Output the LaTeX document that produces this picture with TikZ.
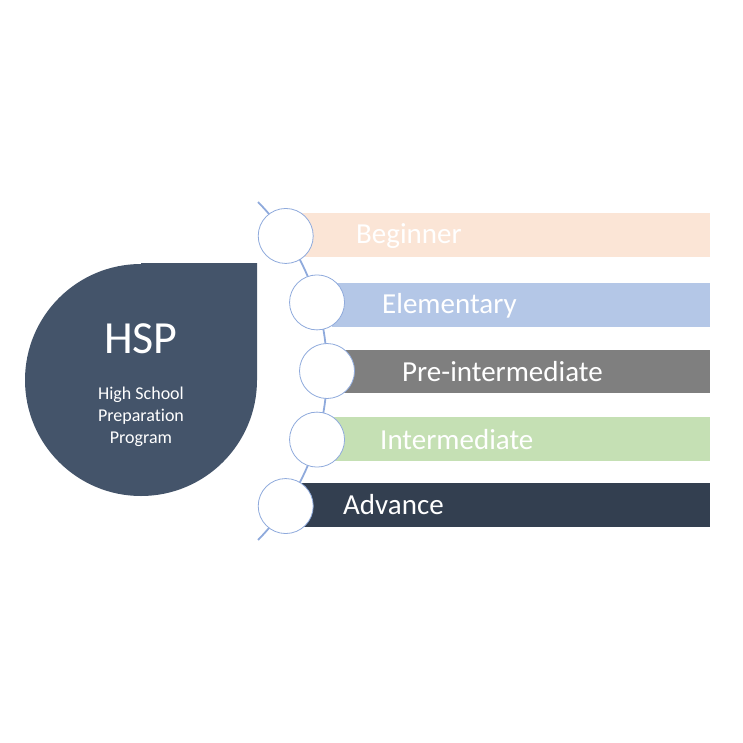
\documentclass[tikz,border=0pt]{standalone}
\usepackage{fontspec}
\setmainfont{Carlito}[Ligatures=NoCommon]
\usetikzlibrary{calc}
\definecolor{drop}{HTML}{44546A}
\definecolor{ring}{HTML}{8FAADC}
\definecolor{cBeg}{HTML}{FBE5D6}
\definecolor{cEle}{HTML}{B4C7E7}
\definecolor{cPre}{HTML}{7F7F7F}
\definecolor{cInt}{HTML}{C5E0B4}
\definecolor{cAdv}{HTML}{333F50}
\begin{document}
\begin{tikzpicture}[x=1pt,y=-1pt,
  bartext/.style={anchor=west,inner sep=0pt,text=white,font=\fontsize{29}{34}\selectfont},
  stepcircle/.style={circle,draw=ring,line width=0.8pt,fill=white,minimum size=55pt,inner sep=0pt},
  spine/.style={draw=ring,line width=1.8pt}]
\useasboundingbox (0,0) rectangle (743,743);
% teardrop
\fill[drop] (141,263) -- (257,263) -- (257,380) arc[start angle=0,end angle=270,radius=116] -- cycle;
\node[text=white,font=\fontsize{46}{50}\selectfont,inner sep=0pt] (hsp) at (141,339) {HSP};
\node[text=white,font=\fontsize{18}{22}\selectfont,align=center,inner sep=0pt] (hspsub) at (141,417) {High School\\Preparation\\Program};
% bars
\fill[cBeg] (302,213) rectangle (710,257);
\fill[cEle] (332,283) rectangle (710,327);
\fill[cPre] (340,350) rectangle (710,393);
\fill[cInt] (332,417) rectangle (710,461);
\fill[cAdv] (302,483) rectangle (710,527);
\node[bartext] (tBeg) at (356,236) {Beginner};
\node[bartext] (tEle) at (382,305.5) {Elementary};
\node[bartext] (tPre) at (402,372) {Pre-intermediate};
\node[bartext] (tInt) at (380,439.5) {Intermediate};
\node[bartext] (tAdv) at (343,505) {Advance};
% spine arc
\coordinate (arcC) at (85.5,371);
\draw[spine] (arcC) ++(-44.4:241.5) coordinate (arcTop) arc[start angle=-44.4,end angle=44.4,radius=241.5] coordinate (arcBot);
% circles
\node[stepcircle] (c1) at ($(arcC)+(-34:241.5)$) {};
\node[stepcircle] (c2) at ($(arcC)+(-16.5:241.5)$) {};
\node[stepcircle] (c3) at ($(arcC)+(0:241.5)$) {};
\node[stepcircle] (c4) at ($(arcC)+(16.5:241.5)$) {};
\node[stepcircle] (c5) at ($(arcC)+(34:241.5)$) {};
\end{tikzpicture}
\end{document}
